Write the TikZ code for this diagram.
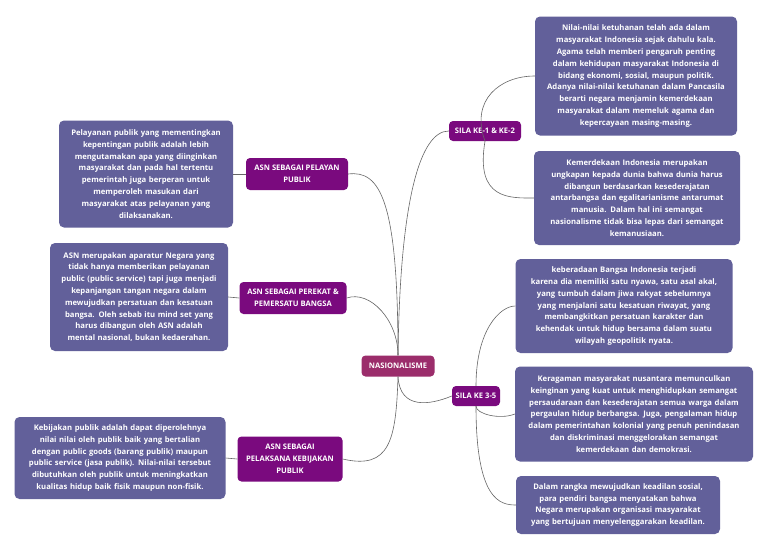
\documentclass[tikz,border=0pt]{standalone}
\usepackage{fontspec}
\setmainfont{Open Sans}[BoldFont={* Bold}]
\begin{document}
\begin{tikzpicture}[x=1pt,y=-1pt,
 leaf/.style={fill=leafc,rounded corners=5pt,text=white,align=center,font=\bfseries\fontsize{7.7}{11.8}\selectfont,inner sep=4pt},
 mid/.style={fill=midc,rounded corners=4pt,text=white,align=center,font=\bfseries\fontsize{7.6}{11.8}\selectfont,inner sep=3pt},
 con/.style={draw=gray!80!black,line width=0.6pt}]
\definecolor{leafc}{HTML}{62609A}
\definecolor{midc}{HTML}{7A0A7E}
\definecolor{rootc}{HTML}{9B2D6B}
\useasboundingbox[fill=white] (0,0) rectangle (768,552);
\node[leaf,minimum width=198pt,minimum height=119pt,text width=194pt] (b1) at (636,76) {Nilai-nilai ketuhanan telah ada dalam\\masyarakat Indonesia sejak dahulu kala.\\Agama telah memberi pengaruh penting\\dalam kehidupan masyarakat Indonesia di\\bidang ekonomi, sosial, maupun politik.\\Adanya nilai-nilai ketuhanan dalam Pancasila\\berarti negara menjamin kemerdekaan\\masyarakat dalam memeluk agama dan\\kepercayaan masing-masing.};
\node[leaf,minimum width=202pt,minimum height=94pt,text width=198pt] (b2) at (637,198) {Kemerdekaan Indonesia merupakan\\ungkapan kepada dunia bahwa dunia harus\\dibangun berdasarkan kesederajatan\\antarbangsa dan egalitarianisme antarumat\\manusia. Dalam hal ini semangat\\nasionalisme tidak bisa lepas dari semangat\\kemanusiaan.};
\node[leaf,minimum width=213pt,minimum height=94pt,text width=209pt] (b3) at (624,306) {keberadaan Bangsa Indonesia terjadi\\karena dia memiliki satu nyawa, satu asal akal,\\yang tumbuh dalam jiwa rakyat sebelumnya\\yang menjalani satu kesatuan riwayat, yang\\membangkitkan persatuan karakter dan\\kehendak untuk hidup bersama dalam suatu\\wilayah geopolitik nyata.};
\node[leaf,minimum width=234pt,minimum height=95pt,text width=230pt] (b4) at (634,414) {Keragaman masyarakat nusantara memunculkan\\keinginan yang kuat untuk menghidupkan semangat\\persaudaraan dan kesederajatan semua warga dalam\\pergaulan hidup berbangsa. Juga, pengalaman hidup\\dalam pemerintahan kolonial yang penuh penindasan\\dan diskriminasi menggelorakan semangat\\kemerdekaan dan demokrasi.};
\node[leaf,minimum width=200pt,minimum height=58pt,text width=196pt] (b5) at (618,505) {Dalam rangka mewujudkan keadilan sosial,\\para pendiri bangsa menyatakan bahwa\\Negara merupakan organisasi masyarakat\\yang bertujuan menyelenggarakan keadilan.};
\node[leaf,minimum width=170pt,minimum height=107pt,text width=166pt] (l1) at (146,174) {Pelayanan publik yang mementingkan\\kepentingan publik adalah lebih\\mengutamakan apa yang diinginkan\\masyarakat dan pada hal tertentu\\pemerintah juga berperan untuk\\memperoleh masukan dari\\masyarakat atas pelayanan yang\\dilaksanakan.};
\node[leaf,minimum width=174pt,minimum height=108pt,text width=170pt] (l2) at (139,297) {ASN merupakan aparatur Negara yang\\tidak hanya memberikan pelayanan\\public (public service) tapi juga menjadi\\kepanjangan tangan negara dalam\\mewujudkan persatuan dan kesatuan\\bangsa. Oleh sebab itu mind set yang\\harus dibangun oleh ASN adalah\\mental nasional, bukan kedaerahan.};
\node[leaf,minimum width=207pt,minimum height=82pt,text width=203pt] (l3) at (120,458) {Kebijakan publik adalah dapat diperolehnya\\nilai nilai oleh publik baik yang bertalian\\dengan public goods (barang publik) maupun\\public service (jasa publik). Nilai-nilai tersebut\\dibutuhkan oleh publik untuk meningkatkan\\kualitas hidup baik fisik maupun non-fisik.};
\node[mid,minimum width=102pt,minimum height=32pt] (m1) at (297,174) {ASN SEBAGAI PELAYAN\\PUBLIK};
\node[mid,minimum width=107pt,minimum height=32pt] (m2) at (293,298) {ASN SEBAGAI PEREKAT \&\\PEMERSATU BANGSA};
\node[mid,minimum width=105pt,minimum height=45pt] (m3) at (290,459) {ASN SEBAGAI\\PELAKSANA KEBIJAKAN\\PUBLIK};
\node[mid,fill=rootc,minimum width=73pt,minimum height=21pt] (root) at (398,366) {NASIONALISME};
\node[mid,minimum width=72pt,minimum height=20pt] (s1) at (485,131) {SILA KE-1 \& KE-2};
\node[mid,minimum width=48pt,minimum height=20pt] (s3) at (476,396) {SILA KE 3-5};
% connectors
\draw[con] (root.north) .. controls (398,200) and (380,170) .. (m1.east);
\draw[con] (root.north) .. controls (398,320) and (370,290) .. (m2.east);
\draw[con] (root.south) .. controls (396,440) and (390,470) .. (m3.east);
\draw[con] (root.north) .. controls (400,200) and (420,131) .. (s1.west);
\draw[con] (root.south) .. controls (400,410) and (430,405) .. (s3.west);
\draw[con] (s1.south) .. controls (470,100) and (500,76) .. (b1.west);
\draw[con] (s1.south) .. controls (475,200) and (510,198) .. (b2.west);
\draw[con] (s3.north) .. controls (476,330) and (500,306) .. (b3.west);
\draw[con] (s3.south) .. controls (476,414) and (500,420) .. (b4.west);
\draw[con] (s3.south) .. controls (476,500) and (500,505) .. (b5.west);
\draw[con] (m1.west) -- (l1.east);
\draw[con] (m2.west) -- (l2.east);
\draw[con] (m3.west) -- (l3.east);
\end{tikzpicture}
\end{document}
